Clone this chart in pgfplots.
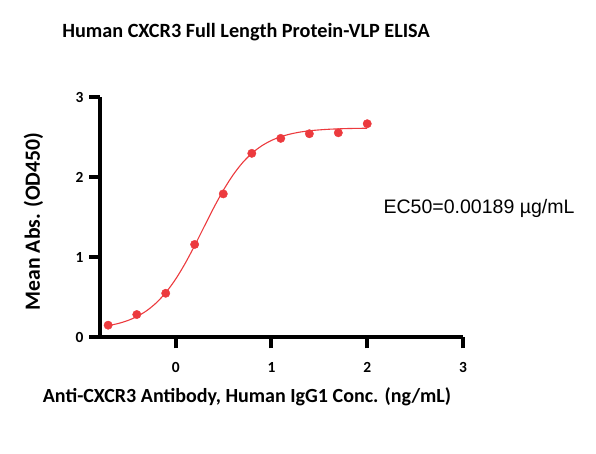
\documentclass[border=0pt]{standalone}
\usepackage{pgfplots}
\pgfplotsset{compat=1.18}
\usepackage{fontspec}
\setmainfont{Carlito}
\newfontfamily\arialfont{Liberation Sans}
\definecolor{ptred}{RGB}{236,58,62}
\begin{document}
\begin{tikzpicture}[x=1bp,y=1bp]
\useasboundingbox (0,0) rectangle (596,454);
\begin{axis}[
  at={(100bp,116.5bp)}, anchor=south west,
  scale only axis, width=363bp, height=240bp,
  xmin=-0.79, xmax=3, ymin=0, ymax=3,
  axis x line=bottom, axis y line=left,
  axis line style={line width=4bp, -},
  xtick={0,1,2,3}, ytick={0,1,2,3},
  tick align=outside, major tick length=11bp,
  tick style={line width=4bp, black},
  /pgf/number format/assume math mode=true,
  ticklabel style={font=\fontsize{15.5}{17}\selectfont\bfseries},
  xticklabel shift=10bp, yticklabel shift=2bp,
  clip=false,
]
\addplot[ptred, line width=1.1bp, smooth, no marks] coordinates {
(-0.7,0.149) (-0.6,0.175) (-0.5,0.212) (-0.4,0.265) (-0.3,0.337)
(-0.2,0.436) (-0.1,0.566) (0,0.730) (0.1,0.928) (0.2,1.153)
(0.3,1.391) (0.4,1.627) (0.5,1.845) (0.6,2.033) (0.7,2.187)
(0.8,2.307) (0.9,2.397) (1.0,2.463) (1.1,2.511) (1.2,2.544)
(1.3,2.568) (1.4,2.584) (1.5,2.595) (1.6,2.603) (1.7,2.608)
(1.8,2.612) (1.9,2.614) (2.0,2.616)};
\addplot[only marks, mark=*, mark size=4.2bp, ptred, mark options={draw=ptred, fill=ptred}] coordinates {
(-0.705,0.154) (-0.406,0.287) (-0.104,0.553) (0.198,1.163) (0.497,1.795)
(0.795,2.302) (1.097,2.489) (1.396,2.547) (1.698,2.559) (2.0,2.672)};
\end{axis}
\node[anchor=base, font=\fontsize{20.3}{24}\selectfont\bfseries] at (246,416) {Human CXCR3 Full Length Protein-VLP ELISA};
\node[anchor=base, font=\fontsize{20.1}{24}\selectfont\bfseries] at (247,51.3) {Anti-CXCR3 Antibody, Human IgG1 Conc. (ng/mL)};
\node[rotate=90, anchor=center, font=\fontsize{21.8}{24}\selectfont\bfseries] at (33.5,232.5) {Mean Abs. (OD450)};
\node[anchor=base, font=\arialfont\fontsize{19.6}{22}\selectfont] at (479,240.7) {EC50=0.00189 µg/mL};
\end{tikzpicture}
\end{document}
